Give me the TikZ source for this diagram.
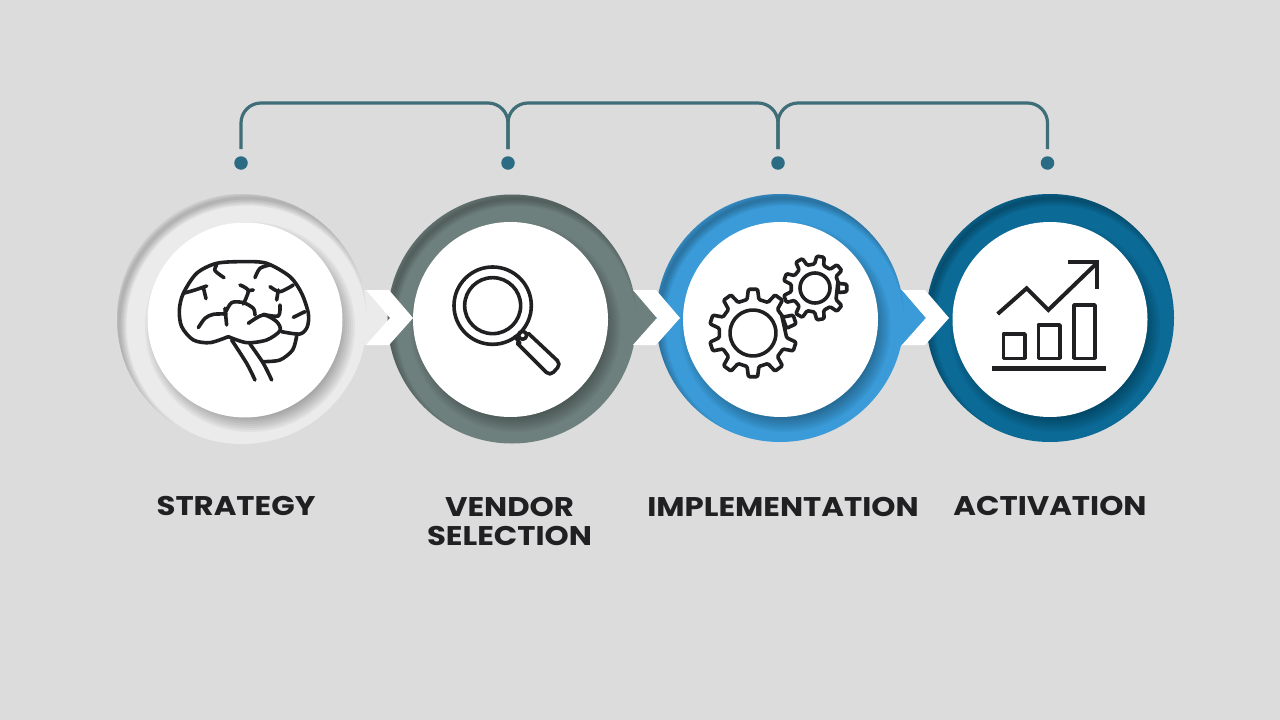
\documentclass[tikz,border=0pt]{standalone}
\usepackage{fontspec}
\setmainfont{Poppins}
\newfontfamily\capfont{Poppins}[FakeStretch=1.14]
\usetikzlibrary{calc}

\definecolor{paper}{HTML}{DCDCDC}
\definecolor{ringgrey}{HTML}{6E807D}
\definecolor{ringsky}{HTML}{3A9BD8}
\definecolor{ringnavy}{HTML}{0B6A96}
\definecolor{ringpale}{HTML}{EBEBEB}
\definecolor{linkteal}{HTML}{3F6E78}
\definecolor{dotteal}{HTML}{2B6B84}
\definecolor{inkdark}{HTML}{202022}

% one gear: centre, turn, outer radius, root radius, teeth, hole radius
\newcommand{\gearicon}[6]{
	\begin{scope}[shift={(#1)}, rotate=#2]
		\draw[icon, rounded corners=1.2pt] (-150/#5:#4)
			\foreach \i [evaluate=\i as \a using \i*360/#5] in {1,...,#5} {
				-- (\a-100/#5:#4) -- (\a-60/#5:#3) -- (\a+60/#5:#3) -- (\a+100/#5:#4)
			} -- cycle;
		\draw[icon] (0,0) circle (#6);
	\end{scope}
}

\begin{document}
\begin{tikzpicture}[x=1pt,y=-1pt]
	\tikzstyle{ringbase} = [circle, inner sep=0pt]
	\tikzstyle{disk} = [circle, fill=white, inner sep=0pt, minimum size=195pt]
	\tikzstyle{dot} = [circle, fill=dotteal, inner sep=0pt, minimum size=13.5pt]
	\tikzstyle{bracket} = [linkteal, line width=3.2pt, rounded corners=20pt, shorten <=7pt, shorten >=7pt]
	\tikzstyle{icon} = [inkdark, line width=3.6pt, line cap=round, line join=round]
	\tikzstyle{caption} = [inkdark, font=\capfont\bfseries\fontsize{27}{29}\selectfont, align=center, inner sep=0pt]

	\fill[paper] (0,0) rectangle (1280,720);
	\useasboundingbox (0,0) rectangle (1280,720);

	% rings, each with its point to the right and its shadows
	\foreach \n/\cx/\cy/\rr/\dx/\tip/\col in {A/242/319/125/245/366/ringpale, B/512/319/124.5/510.5/633/ringgrey, C/780/318/124/780.5/902/ringsky, D/1050/318/124/1050/0/ringnavy} {
		\ifnum\tip>0
			\fill[\col] (\tip-16,290) -- (\tip,290) -- (\tip+24,318) -- (\tip,345) -- (\tip-16,345) -- cycle;
		\fi
		\node[ringbase, fill=\col, minimum size=2*\rr] (ring\n) at (\cx,\cy) {};
		\begin{scope}
			\clip (\cx,\cy) circle (\rr);
			\foreach \s in {-6,-4,...,8}
				\fill[black, opacity=.04] (\dx+5,327) circle (97+\s);
			\foreach \s in {3,6,...,15}
				\draw[black, opacity=.05, line width=\s pt] (\cx+5,\cy+7) circle (\rr+3);
		\end{scope}
	}

	% white chevrons between the rings
	\foreach \x in {366,633,902}
		\fill[white, shift={(\x,0)}] (0,290) -- (23,290) -- (47,318) -- (23,345) -- (0,345) -- (24,318) -- cycle;

	\node[disk] (diskA) at (245,320) {};
	\node[disk] (diskB) at (510.5,319.5) {};
	\node[disk] (diskC) at (780.5,319.5) {};
	\node[disk] (diskD) at (1050,319.5) {};

	% brain
	\begin{scope}[shift={(100,180)}, x=.3333pt, y=-.3333pt]
		\draw[icon] plot[smooth] coordinates {(385,470) (330,488) (280,480) (245,440) (238,390) (250,340) (290,280) (350,250) (430,245) (500,250) (570,290) (605,340) (625,400) (622,440) (600,462) (545,455)};
		\draw[icon] plot[smooth] coordinates {(385,470) (440,488) (500,480) (540,452) (530,425) (490,405) (445,430)};
		\draw[icon] plot[smooth] coordinates {(590,468) (578,510) (540,540) (490,545)};
		\draw[icon] plot[smooth] coordinates {(395,480) (440,550) (465,600)};
		\draw[icon] plot[smooth] coordinates {(450,492) (490,550) (515,600)};
		\draw[icon] plot[smooth] coordinates {(372,293) (345,272) (350,255)};
		\draw[icon] plot[smooth] coordinates {(465,293) (480,265) (510,255)};
		\draw[icon] plot[smooth] coordinates {(250,340) (285,330) (320,318)};
		\draw[icon] (310,322) -- (318,356);
		\draw[icon] plot[smooth] coordinates {(420,315) (445,332) (430,372)};
		\draw[icon] (445,332) -- (460,330);
		\draw[icon] plot[smooth] coordinates {(375,400) (395,368) (430,368) (460,385) (465,405)};
		\draw[icon] (375,385) -- (380,435);
		\draw[icon] plot[smooth] coordinates {(378,402) (340,403) (315,415) (295,443)};
		\draw[icon] plot[smooth] coordinates {(510,320) (540,335) (580,315)};
		\draw[icon] (535,330) -- (530,360);
		\draw[icon] plot[smooth] coordinates {(540,375) (535,408) (490,403)};
		\draw[icon] (580,412) -- (615,395);
	\end{scope}

	% magnifier
	\begin{scope}[shift={(380,180)}, x=.3333pt, y=-.3333pt]
		\draw[icon] (338,377) circle (116);
		\draw[icon] (338,377) circle (84);
		\draw[icon, rounded corners=5pt] (445,460) -- (543,552) -- (510,588) -- (412,490);
		\draw[icon] (405,470) -- (420,490);
		\draw[icon] (428,466) circle (12);
	\end{scope}

	% gears
	\gearicon{753,333}{18}{44}{34}{10}{23}
	\gearicon{815,288}{0}{32}{24}{9}{15}

	% chart
	\begin{scope}[shift={(900,180)}, x=.3333pt, y=-.3333pt]
		\draw[icon, line cap=butt, line join=miter, line width=4pt] (293,402) -- (380,325) -- (445,390) -- (590,250);
		\draw[icon, line cap=butt, line join=miter, line width=4pt] (505,247) -- (592,247) -- (592,328);
		\draw[icon] (310,462) rectangle (375,535);
		\draw[icon] (415,435) rectangle (480,535);
		\draw[icon] (522,375) rectangle (585,535);
		\draw[icon, line cap=butt, line width=4.6pt] (277,565) -- (617,565);
	\end{scope}

	% bracket over the rings
	\node[dot] (dotA) at (241,163) {};
	\node[dot] (dotB) at (508,163) {};
	\node[dot] (dotC) at (778,163) {};
	\node[dot] (dotD) at (1047.5,163) {};
	\coordinate (topA) at (375,103);
	\coordinate (topB) at (643,103);
	\coordinate (topC) at (913,103);
	\draw[bracket] (dotA.north) |- (topA) -| (dotB.north);
	\draw[bracket] (dotB.north) |- (topB) -| (dotC.north);
	\draw[bracket] (dotC.north) |- (topC) -| (dotD.north);

	\node[caption] (capA) at (236,506) {STRATEGY};
	\node[caption] (capB) at (509.5,521) {VENDOR\\SELECTION};
	\node[caption] (capC) at (783,507) {IMPLEMENTATION};
	\node[caption] (capD) at (1050,506) {ACTIVATION};
\end{tikzpicture}
\end{document}
